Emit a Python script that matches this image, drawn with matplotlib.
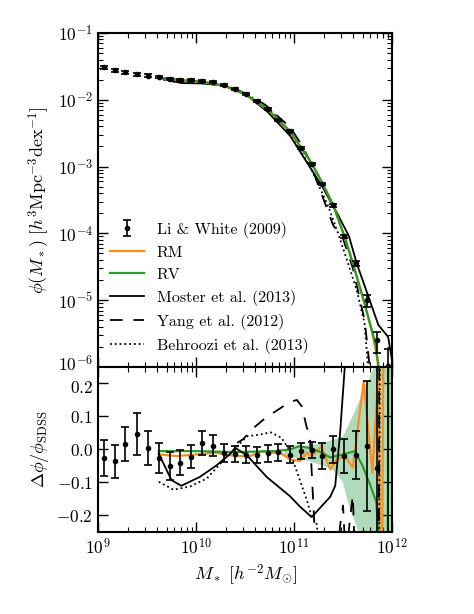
import numpy as np
import matplotlib
matplotlib.use("Agg")
import matplotlib.pyplot as plt
import matplotlib.transforms as mtransforms

plt.rcParams["font.family"] = "serif"
plt.rcParams["font.serif"] = ["cmr10", "DejaVu Serif"]
plt.rcParams["mathtext.fontset"] = "cm"
plt.rcParams["axes.formatter.use_mathtext"] = True
plt.rcParams["axes.unicode_minus"] = False

# Li & White (2009) points
logm_lw = [9.06, 9.17, 9.28, 9.40, 9.51, 9.62, 9.73, 9.84, 9.95, 10.06, 10.17,
           10.29, 10.40, 10.51, 10.62, 10.73, 10.84, 10.96, 11.07, 11.18, 11.29,
           11.40, 11.51, 11.63, 11.74, 11.85, 11.96]
logphi_lw = [-1.51, -1.56, -1.59, -1.62, -1.64, -1.66, -1.69, -1.70, -1.71, -1.72,
             -1.74, -1.78, -1.84, -1.91, -2.02, -2.14, -2.30, -2.47, -2.72, -2.96,
             -3.26, -3.58, -4.04, -4.45, -5.00, -5.60, -5.99]
dphi_lw = [-0.025, -0.035, 0.016, 0.047, 0.005, -0.025, -0.050, -0.040, -0.022,
           0.020, 0.011, -0.011, -0.014, -0.016, -0.016, -0.012, -0.009, -0.016,
           -0.004, -0.002, -0.020, 0.000, -0.019, -0.016, 0.011, -0.055, -0.30]
err_lw = [0.054, 0.050, 0.051, 0.065, 0.052, 0.046, 0.042, 0.038, 0.035, 0.037,
          0.032, 0.027, 0.025, 0.026, 0.025, 0.025, 0.025, 0.026, 0.025, 0.025,
          0.040, 0.040, 0.052, 0.073, 0.197, 0.35, 0.80]

# model curves, upper panel (log phi)
logm_rv = [9.62, 9.84, 10.06, 10.29, 10.51, 10.73, 10.96, 11.18, 11.29, 11.40,
           11.52, 11.60, 11.72, 11.83, 11.87]
logphi_rv = [-1.665, -1.705, -1.725, -1.79, -1.92, -2.145, -2.47, -2.95, -3.25,
             -3.575, -4.07, -4.45, -5.05, -5.65, -6.1]
logm_rm = [9.62, 9.84, 10.06, 10.29, 10.51, 10.73, 10.96, 11.18, 11.29, 11.40,
           11.52, 11.60, 11.70, 11.80, 11.88]
logphi_rm = [-1.67, -1.71, -1.73, -1.795, -1.925, -2.15, -2.48, -2.955, -3.25,
             -3.58, -4.07, -4.44, -4.95, -5.50, -6.1]
logm_mo = [9.62, 9.85, 10.06, 10.29, 10.51, 10.73, 10.96, 11.18, 11.30, 11.44,
           11.56, 11.64, 11.76, 11.86, 11.96, 12.0]
logphi_mo = [-1.67, -1.75, -1.755, -1.79, -1.925, -2.18, -2.54, -3.05, -3.33,
             -3.70, -4.04, -4.45, -4.95, -5.37, -5.55, -5.9]
logm_ya = [10.42, 10.59, 10.71, 10.86, 10.96, 11.08, 11.16, 11.22, 11.40, 11.50,
           11.60, 11.72, 11.78]
logphi_ya = [-1.85, -1.97, -2.08, -2.28, -2.41, -2.68, -2.91, -3.17, -3.88, -4.08,
             -4.52, -5.30, -6.1]
logm_be = [9.62, 9.77, 9.94, 10.11, 10.31, 10.52, 10.76, 10.87, 11.06, 11.18,
           11.35, 11.45, 11.54, 11.64, 11.72, 11.76]
logphi_be = [-1.69, -1.73, -1.74, -1.75, -1.795, -1.91, -2.17, -2.315, -2.74,
             -3.05, -3.60, -4.00, -4.40, -4.85, -5.35, -6.1]

# model curves, lower panel (relative difference)
dm_rv = [9.62, 10.0, 10.4, 10.8, 10.96, 11.05, 11.15, 11.25, 11.37, 11.50, 11.62,
         11.70, 11.78, 11.84, 11.87, 11.90, 11.95, 11.97]
d_rv = [-0.005, -0.005, -0.008, -0.005, 0.0, 0.01, 0.005, -0.005, -0.024, -0.015,
        -0.005, -0.05, -0.11, -0.16, -0.3, -0.6, -0.9, 1.0]
dm_rm = [9.62, 9.8, 10.0, 10.2, 10.4, 10.55, 10.68, 10.78, 10.86, 10.96, 11.06,
         11.13, 11.18, 11.28, 11.33, 11.37, 11.44, 11.52, 11.60, 11.71, 11.80,
         11.86, 11.89, 11.92]
d_rm = [-0.015, -0.02, -0.015, -0.01, -0.02, -0.02, -0.005, -0.01, -0.01, -0.03,
        -0.035, -0.01, -0.02, 0.01, -0.03, -0.06, -0.03, -0.02, -0.055, 0.205,
        -0.07, 0.23, -0.8, 0.8]
dm_mo = [9.62, 9.75, 9.85, 10.04, 10.21, 10.35, 10.40, 10.52, 10.72, 10.96, 11.06,
         11.18, 11.37, 11.42, 11.47, 11.52, 11.56]
d_mo = [-0.013, -0.093, -0.11, -0.083, -0.048, -0.013, 0.005, -0.018, -0.083,
        -0.142, -0.173, -0.205, -0.143, -0.11, 0.05, 0.26, 0.4]
dm_ya = [10.42, 10.48, 10.59, 10.71, 10.86, 10.96, 11.03, 11.08, 11.13, 11.16,
         11.22, 11.40, 11.47, 11.50, 11.53, 11.57, 11.60, 11.63, 11.86, 11.88]
d_ya = [0.02, 0.031, 0.066, 0.096, 0.125, 0.145, 0.15, 0.13, 0.066, 0.05, -0.30,
        -0.5, -0.23, -0.17, -0.35, -0.21, -0.14, -0.4, -0.9, 1.5]
dm_be = [9.62, 9.77, 9.94, 10.11, 10.31, 10.52, 10.65, 10.76, 10.87, 10.95, 11.06,
         11.13, 11.18, 11.23, 11.28, 11.86, 11.90]
d_be = [-0.098, -0.122, -0.112, -0.088, -0.023, 0.04, 0.045, 0.052, 0.036, 0.0,
        -0.093, -0.153, -0.203, -0.225, -0.35, -0.9, 2.0]

# RV uncertainty band
bm = [10.9, 11.1, 11.3, 11.4, 11.5, 11.55, 11.67, 11.7, 11.86, 11.9, 12.0]
band_lo = [-0.02, -0.03, -0.05, -0.063, -0.10, -0.16, -0.26, -0.30, -0.6, -1.0, -1.0]
band_hi = [0.0, 0.01, 0.02, 0.03, 0.04, 0.07, 0.15, 0.17, 0.28, 1.0, 1.0]

c_rm = "#ff8c1a"
c_rv = "#2a9a2a"

fig = plt.figure(figsize=(4.74, 6.14), dpi=100)
ax1 = fig.add_axes([0.2068, 0.4023, 0.6203, 0.5440])
ax2 = fig.add_axes([0.2068, 0.1336, 0.6203, 0.2687])

p = lambda a: 10 ** np.array(a)

# Yang and Behroozi go underneath the others
ax1.plot(p(logm_ya), p(logphi_ya), color="k", lw=1.3, dashes=(7, 6), zorder=1,
         label="Yang et al. (2012)")
ax1.plot(p(logm_be), p(logphi_be), color="k", lw=1.3, ls=":", zorder=1,
         label="Behroozi et al. (2013)")
ax1.plot(p(logm_mo), p(logphi_mo), color="k", lw=1.3, zorder=2,
         label="Moster et al. (2013)")
ax1.plot(p(logm_rm), p(logphi_rm), color=c_rm, lw=1.6, zorder=3, label="RM")
ax1.plot(p(logm_rv), p(logphi_rv), color=c_rv, lw=1.6, zorder=3, label="RV")
phi = p(logphi_lw)
ax1.errorbar(p(logm_lw), phi, yerr=phi * np.array(err_lw), fmt="o", ms=3,
             color="k", capsize=3.2, elinewidth=1.2, capthick=1.2, zorder=4,
             label="Li & White (2009)")

ax2.fill_between(p(bm), band_lo, band_hi, color="#a8d8b4", lw=0, alpha=0.9)
ax2.plot(p(dm_rm), d_rm, color=c_rm, lw=1.6)
ax2.plot(p(dm_rv), d_rv, color=c_rv, lw=1.6)
ax2.plot(p(dm_mo), d_mo, color="k", lw=1.3)
ax2.plot(p(dm_ya), d_ya, color="k", lw=1.3, dashes=(7, 6))
ax2.plot(p(dm_be), d_be, color="k", lw=1.3, ls=":")
ax2.errorbar(p(logm_lw), dphi_lw, yerr=err_lw, fmt="o", ms=3, color="k",
             capsize=3.2, elinewidth=1.2, capthick=1.2)

for ax in (ax1, ax2):
    ax.set_xscale("log")
    ax.set_xlim(1e9, 1e12)
    ax.tick_params(which="both", direction="in", top=True, right=True,
                   labelsize=12.5)
    ax.tick_params(which="major", length=7, width=1)
    ax.tick_params(which="minor", length=3.5, width=0.8)
    for s in ax.spines.values():
        s.set_linewidth(1.5)

ax1.set_yscale("log")
ax1.set_ylim(1e-6, 1e-1)
ax1.tick_params(labelbottom=False)
ax1.set_ylabel(r"$\phi(M_*)\ [h^3{\rm Mpc}^{-3}{\rm dex}^{-1}]$", fontsize=13)

ax2.set_ylim(-0.25, 0.25)
ax2.set_yticks([-0.2, -0.1, 0.0, 0.1, 0.2])
ax2.set_yticklabels([r"$-0.2$", r"$-0.1$", r"$0.0$", r"$0.1$", r"$0.2$"])
ax2.set_ylabel(r"$\Delta\phi/\phi_{\rm SDSS}$", fontsize=13)
ax2.set_xlabel(r"$M_*\ [h^{-2}M_{\odot}]$", fontsize=13)

# nudge the two tick labels that meet at the panel boundary
fig.canvas.draw()
up = mtransforms.ScaledTranslation(0, 4 / 100, fig.dpi_scale_trans)
down = mtransforms.ScaledTranslation(0, -3 / 100, fig.dpi_scale_trans)
for t in ax1.get_yticklabels():
    if abs(t.get_position()[1] - 1e-6) < 1e-9:
        t.set_transform(t.get_transform() + up)
for t in ax2.get_yticklabels():
    if abs(t.get_position()[1] - 0.2) < 1e-6:
        t.set_transform(t.get_transform() + down)

h, l = ax1.get_legend_handles_labels()
order = [5, 3, 4, 2, 0, 1]
ax1.legend([h[i] for i in order], [l[i] for i in order], loc="lower left",
           bbox_to_anchor=(0.02, 0.02), frameon=False, fontsize=11.5,
           handlelength=2.1, labelspacing=0.5, borderaxespad=0)

fig.savefig("out.png", dpi=100)
